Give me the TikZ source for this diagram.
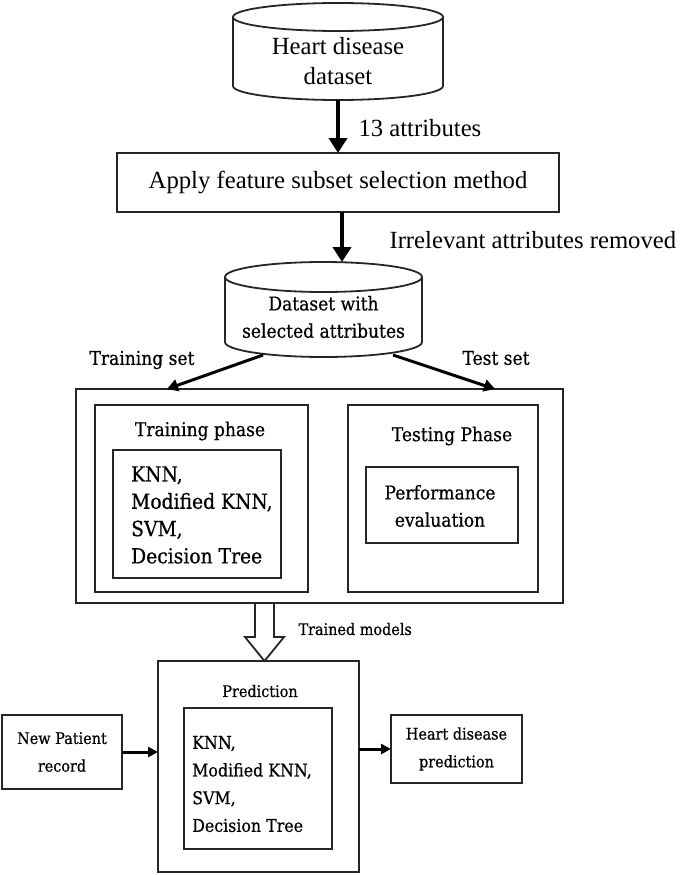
\documentclass[tikz,border=0pt]{standalone}
\usepackage{fontspec}
\setmainfont{Liberation Serif}
\newfontfamily\cmb[FakeStretch=0.9,FakeBold=0.6]{DejaVu Serif}
\usetikzlibrary{arrows.meta}
\tikzset{
  ln/.style={draw=black!85, line width=1.8pt},
  box/.style={ln, inner sep=0pt, outer sep=0pt},
  tms/.style={font=\fontsize{24.7}{30}\selectfont},
  cbA/.style={font=\cmb\fontsize{19}{27.3}\selectfont},
  cbAl/.style={font=\cmb\fontsize{20.8}{27.3}\selectfont},
  cbB/.style={font=\cmb\fontsize{16}{27.7}\selectfont},
  cbBl/.style={font=\cmb\fontsize{17.6}{27.7}\selectfont},
  bigarrow/.style={draw=black, line width=4.5pt, -{Triangle[width=18pt,length=15pt]}},
  midarrow/.style={draw=black, line width=3pt, -{Triangle[width=12pt,length=11pt]}},
  smallarrow/.style={draw=black, line width=3pt, -{Triangle[width=10pt,length=10pt]}},
}
\begin{document}
\begin{tikzpicture}[x=1pt,y=-1pt]
\useasboundingbox (0,0) rectangle (685,875);
\fill[white] (0,0) rectangle (685,875);

% cylinder 1
\draw[ln, fill=white] (233,17) -- (233,86) arc[start angle=180, end angle=0, x radius=105, y radius=14] -- (443,17);
\draw[ln] (338,17) ellipse [x radius=105, y radius=14];
\node[tms, align=center] (db1) at (338,61) {Heart disease\\dataset};
\coordinate (db1bot) at (338,100);

\node[box, tms, minimum width=442, minimum height=59] (fss) at (338,182.5) {Apply feature subset selection method};
\draw[bigarrow] (db1bot) -- (fss.north);
\node[tms, anchor=west] (l13) at (355,128) {13 attributes};

% cylinder 2
\draw[ln, fill=white] (225,277) -- (225,342) arc[start angle=180, end angle=0, x radius=98.5, y radius=15] -- (422,277);
\draw[ln] (323.5,277) ellipse [x radius=98.5, y radius=15];
\node[cbA, align=center] (db2) at (323.5,317) {Dataset with\\selected attributes};
\coordinate (db2in) at (342,262);
\draw[bigarrow] (fss.south -| db2in) -- (db2in);
\node[tms, anchor=west] (lirr) at (386,240) {Irrelevant attributes removed};

% big box
\node[box, minimum width=487, minimum height=214] (big) at (319.5,496) {};
\coordinate (db2l) at (263,355);
\coordinate (db2r) at (393,355);
\coordinate (bigl) at (167,389);
\coordinate (bigr) at (495,389);
\draw[midarrow] (db2l) -- (bigl);
\draw[midarrow] (db2r) -- (bigr);
\node[cbA] (ltrain) at (142,360) {Training set};
\node[cbA] (ltest) at (496,358) {Test set};

% training phase
\node[box, minimum width=213, minimum height=187] (train) at (201.5,498.5) {};
\node[cbA] (traint) at (200,431) {Training phase};
\node[box, minimum width=168, minimum height=128] (trainin) at (197,514) {};
\node[cbAl, align=left, anchor=west, inner sep=2pt] (trainl) at (129,515) {KNN,\\Modified KNN,\\SVM,\\Decision Tree};

% testing phase
\node[box, minimum width=190, minimum height=187] (test) at (443,498.5) {};
\node[cbA] (testt) at (452,436) {Testing Phase};
\node[box, minimum width=152, minimum height=76] (testin) at (442,505) {};
\node[cbA, align=center] (testl) at (440,506) {Performance\\evaluation};

% hollow arrow
\draw[ln, fill=white, line join=miter] (255,603) -- (274,603) -- (274,637) -- (284,637) -- (264.5,661) -- (245,637) -- (255,637) -- cycle;
\node[cbB, anchor=west] (ltm) at (295,629) {Trained models};

% prediction
\node[box, minimum width=201, minimum height=211] (pred) at (258.5,766.5) {};
\node[cbB] (predt) at (260,691) {Prediction};
\node[box, minimum width=148, minimum height=141] (predin) at (258,778.5) {};
\node[cbBl, align=left, anchor=west, inner sep=2pt] (predl) at (190,784) {KNN,\\Modified KNN,\\SVM,\\Decision Tree};

\node[box, cbB, align=center, minimum width=120, minimum height=74] (np) at (62,752) {New Patient\\record};
\node[box, cbB, align=center, minimum width=131, minimum height=68] (hdp) at (456.5,749) {Heart disease\\prediction};
\draw[smallarrow] (np.east) -- (np.east -| pred.west);
\draw[smallarrow] (pred.east |- hdp.west) -- (hdp.west);
\end{tikzpicture}
\end{document}
